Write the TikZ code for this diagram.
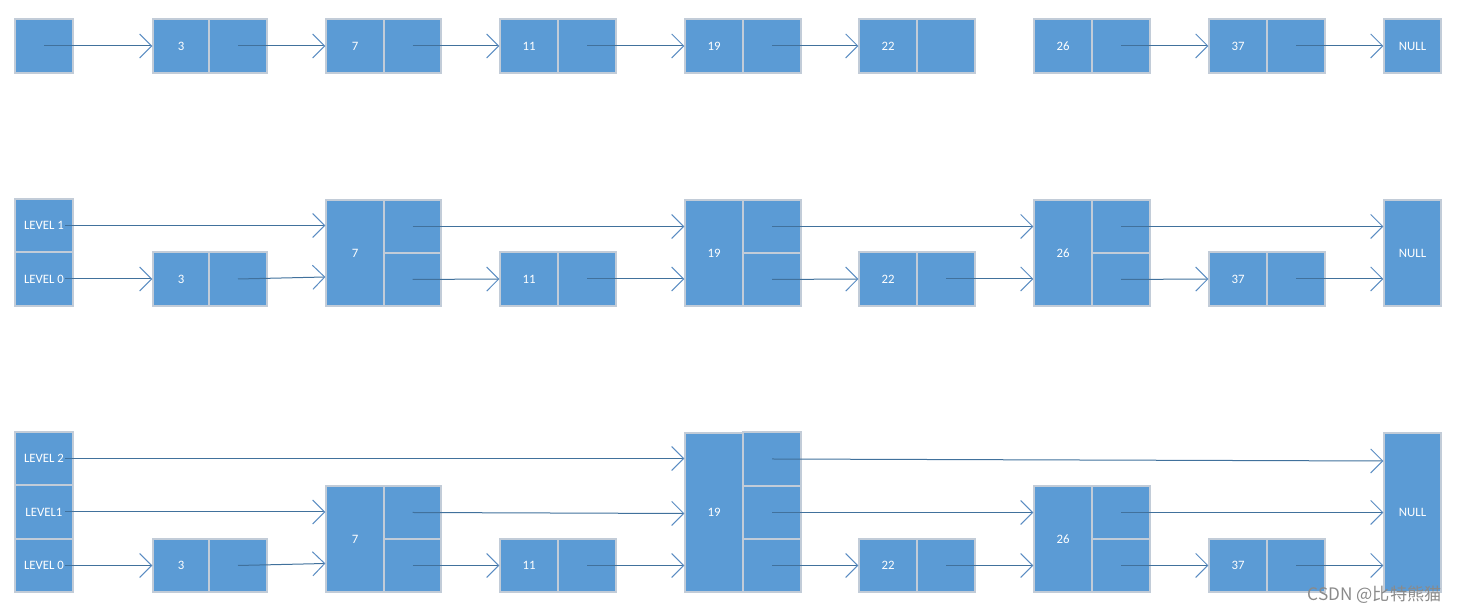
\documentclass[tikz,border=0pt]{standalone}
\usepackage{fontspec}
\newfontfamily\cellfont{Carlito}
\newfontfamily\wmfont{Noto Sans CJK SC}
\usetikzlibrary{arrows.meta}
\definecolor{boxfill}{HTML}{5B9BD5}
\definecolor{boxline}{HTML}{C2CCD8}
\definecolor{linkcol}{HTML}{41719C}
\definecolor{tipcol}{HTML}{5A8CC2}
\definecolor{wmcol}{HTML}{8A8A8A}
\tikzset{
  cell/.style={draw=boxline, fill=boxfill, line width=0.6pt, inner sep=0pt,
    text=white, font=\cellfont\fontsize{6.4}{7}\selectfont},
  link/.style={draw=linkcol, line width=0.5pt,
    -{Straight Barb[length=6pt, width=12pt, line width=0.5pt, color=tipcol]}},
  watermark/.style={text=wmcol, font=\wmfont\fontsize{8.6}{9}\selectfont, inner sep=0pt}
}
\newcommand\mycell[6]{\node[cell, minimum width={(#4-#2)*0.5pt}, minimum height={(#5-#3)*0.5pt}]
  (#1) at ({(#2+#4)/2},{(#3+#5)/2}) {#6};}
\begin{document}
\begin{tikzpicture}[x=0.5pt,y=-0.5pt]
\useasboundingbox (0,0) rectangle (1458,613);
% ---------- top row ----------
\mycell{t0}{15}{19}{73}{73}{}
\mycell{t3a}{153}{19}{209}{73}{3}
\mycell{t3b}{209}{19}{267}{73}{}
\mycell{t7a}{326}{19}{384}{73}{7}
\mycell{t7b}{384}{19}{441}{73}{}
\mycell{t11a}{500}{19}{558}{73}{11}
\mycell{t11b}{558}{19}{616}{73}{}
\mycell{t19a}{685}{19}{743}{73}{19}
\mycell{t19b}{743}{19}{801}{73}{}
\mycell{t22a}{859}{19}{917}{73}{22}
\mycell{t22b}{917}{19}{975}{73}{}
\mycell{t26a}{1034}{19}{1092}{73}{26}
\mycell{t26b}{1092}{19}{1150}{73}{}
\mycell{t37a}{1209}{19}{1267}{73}{37}
\mycell{t37b}{1267}{19}{1325}{73}{}
\mycell{tN}{1384}{19}{1441}{73}{NULL}
\draw[link] (t0.center) -- (t3a.west);
\draw[link] (t3b.center) -- (t7a.west);
\draw[link] (t7b.center) -- (t11a.west);
\draw[link] (t11b.center) -- (t19a.west);
\draw[link] (t19b.center) -- (t22a.west);
\draw[link] (t26b.center) -- (t37a.west);
\draw[link] (t37b.center) -- (tN.west);
% ---------- middle row ----------
\mycell{mL1}{15}{199}{73}{252}{LEVEL 1}
\mycell{mL0}{15}{252}{73}{306}{LEVEL 0}
\mycell{m3a}{153}{252}{209}{306}{3}
\mycell{m3b}{209}{252}{267}{306}{}
\mycell{m7a}{326}{200}{384}{306}{7}
\mycell{m7t}{384}{200}{441}{253}{}
\mycell{m7b}{384}{253}{441}{306}{}
\mycell{m11a}{500}{252}{558}{306}{11}
\mycell{m11b}{558}{252}{616}{306}{}
\mycell{m19a}{685}{200}{743}{306}{19}
\mycell{m19t}{743}{200}{801}{253}{}
\mycell{m19b}{743}{253}{801}{306}{}
\mycell{m22a}{859}{252}{917}{306}{22}
\mycell{m22b}{917}{252}{975}{306}{}
\mycell{m26a}{1034}{200}{1092}{306}{26}
\mycell{m26t}{1092}{200}{1150}{253}{}
\mycell{m26b}{1092}{253}{1150}{306}{}
\mycell{m37a}{1209}{252}{1267}{306}{37}
\mycell{m37b}{1267}{252}{1325}{306}{}
\mycell{mN}{1384}{200}{1441}{306}{NULL}
% level 1
\draw[link] ([xshift=10.5pt]mL1.center) -- (mL1.center -| m7a.west);
\draw[link] (m7t.center) -- (m7t.center -| m19a.west);
\draw[link] (m19t.center) -- (m19t.center -| m26a.west);
\draw[link] (m26t.center) -- (m26t.center -| mN.west);
% level 0
\draw[link] ([xshift=10.5pt]mL0.center) -- (m3a.west);
\draw[link] (m3b.center) -- ([yshift=1pt]m3b.center -| m7a.west);
\draw[link] (m7b.center) -- (m11a.west);
\draw[link] (m11b.center) -- (m11b.center -| m19a.west);
\draw[link] (m19b.center) -- (m22a.west);
\draw[link] (m22b.center) -- (m22b.center -| m26a.west);
\draw[link] (m26b.center) -- (m37a.west);
\draw[link] (m37b.center) -- (m37b.center -| mN.west);
% ---------- bottom row ----------
\mycell{bL2}{15}{432}{73}{485}{LEVEL 2}
\mycell{bL1}{15}{485}{73}{539}{LEVEL1}
\mycell{bL0}{15}{539}{73}{592}{LEVEL 0}
\mycell{b3a}{153}{539}{209}{592}{3}
\mycell{b3b}{209}{539}{267}{592}{}
\mycell{b7a}{326}{486}{384}{592}{7}
\mycell{b7t}{384}{486}{441}{539}{}
\mycell{b7b}{384}{539}{441}{592}{}
\mycell{b11a}{500}{539}{558}{592}{11}
\mycell{b11b}{558}{539}{616}{592}{}
\mycell{b19a}{685}{433}{743}{592}{19}
\mycell{b19t}{743}{432}{801}{486}{}
\mycell{b19m}{743}{486}{801}{539}{}
\mycell{b19b}{743}{539}{801}{592}{}
\mycell{b22a}{859}{539}{917}{592}{22}
\mycell{b22b}{917}{539}{975}{592}{}
\mycell{b26a}{1034}{486}{1092}{592}{26}
\mycell{b26t}{1092}{486}{1150}{539}{}
\mycell{b26b}{1092}{539}{1150}{592}{}
\mycell{b37a}{1209}{539}{1267}{592}{37}
\mycell{b37b}{1267}{539}{1325}{592}{}
\mycell{bN}{1384}{433}{1441}{592}{NULL}
% level 2
\draw[link] ([xshift=10.5pt]bL2.center) -- (bL2.center -| b19a.west);
\draw[link] (b19t.center) -- ([yshift=-1pt]b19t.center -| bN.west);
% level 1
\draw[link] ([xshift=10.5pt]bL1.center) -- (bL1.center -| b7a.west);
\draw[link] (b7t.center) -- ([yshift=-0.5pt]b7t.center -| b19a.west);
\draw[link] (b19m.center) -- (b19m.center -| b26a.west);
\draw[link] (b26t.center) -- (b26t.center -| bN.west);
% level 0
\draw[link] ([xshift=10.5pt]bL0.center) -- (b3a.west);
\draw[link] (b3b.center) -- ([yshift=1pt]b3b.center -| b7a.west);
\draw[link] (b7b.center) -- (b11a.west);
\draw[link] (b11b.center) -- (b11b.center -| b19a.west);
\draw[link] (b19b.center) -- (b22a.west);
\draw[link] (b22b.center) -- (b22b.center -| b26a.west);
\draw[link] (b26b.center) -- (b37a.west);
\draw[link] (b37b.center) -- (b37b.center -| bN.west);
% watermark
\node[watermark, anchor=east] (wm) at (1442,595) {CSDN @比特熊猫};
\end{tikzpicture}
\end{document}
